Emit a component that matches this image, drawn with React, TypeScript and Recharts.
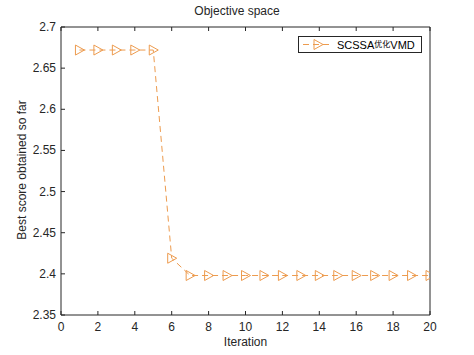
import React from "react"
import { LineChart, Line, XAxis, YAxis } from "recharts"

const iterations = [1, 2, 3, 4, 5, 6, 7, 8, 9, 10, 11, 12, 13, 14, 15, 16, 17, 18, 19, 20]
const bestScore = [
  2.672, 2.672, 2.672, 2.672, 2.672, 2.419, 2.398, 2.398, 2.398, 2.398,
  2.398, 2.398, 2.398, 2.398, 2.398, 2.398, 2.398, 2.398, 2.398, 2.398,
]
const xTicks = [0, 2, 4, 6, 8, 10, 12, 14, 16, 18, 20]
const yTicks = [2.35, 2.4, 2.45, 2.5, 2.55, 2.6, 2.65, 2.7]
const seriesName = "SCSSA优化VMD"

const data = iterations.map((it, i) => ({ iter: it, score: bestScore[i] }))

const W = 474
const H = 355
const PLOT = { left: 61, right: 430, top: 27, bottom: 315 }
const COLOR = "#ED9B4E"
const AXIS = "#262626"
const FONT = "'Liberation Sans', Arial, sans-serif"
const TICK_LEN = 4

const Triangle = (props: any) => {
  const { cx, cy } = props
  if (cx == null || cy == null) return null
  return (
    <path
      d={`M${cx - 4},${cy - 5} L${cx + 5},${cy} L${cx - 4},${cy + 5} Z`}
      fill="none"
      stroke={COLOR}
      strokeWidth={1}
    />
  )
}

const BottomTick = (props: any) => {
  const { x, payload } = props
  return (
    <g>
      <line x1={x} y1={PLOT.bottom} x2={x} y2={PLOT.bottom - TICK_LEN} stroke={AXIS} />
      <text x={x} y={PLOT.bottom + 16} textAnchor="middle" fontSize={12} fill={AXIS} fontFamily={FONT}>
        {payload.value}
      </text>
    </g>
  )
}

const TopTick = (props: any) => {
  const { x } = props
  return <line x1={x} y1={PLOT.top} x2={x} y2={PLOT.top + TICK_LEN} stroke={AXIS} />
}

const LeftTick = (props: any) => {
  const { y, payload } = props
  return (
    <g>
      <line x1={PLOT.left} y1={y} x2={PLOT.left + TICK_LEN} y2={y} stroke={AXIS} />
      <text x={PLOT.left - 5} y={y + 4} textAnchor="end" fontSize={12} fill={AXIS} fontFamily={FONT}>
        {payload.value}
      </text>
    </g>
  )
}

const RightTick = (props: any) => {
  const { y } = props
  return <line x1={PLOT.right} y1={y} x2={PLOT.right - TICK_LEN} y2={y} stroke={AXIS} />
}

export default function App() {
  return (
    <div style={{ position: "absolute", left: 0, top: 0, width: W, height: H, background: "#fff", fontFamily: FONT }}>
      <LineChart
        width={W}
        height={H}
        data={data}
        margin={{ top: PLOT.top - 5, right: W - PLOT.right - 5, left: PLOT.left - 40, bottom: H - PLOT.bottom - 25 }}
      >
        <XAxis
          xAxisId="bottom"
          dataKey="iter"
          type="number"
          domain={[0, 20]}
          ticks={xTicks}
          interval={0}
          height={25}
          tickLine={false}
          tick={<BottomTick />}
          stroke={AXIS}
          allowDataOverflow
        />
        <XAxis
          xAxisId="top"
          dataKey="iter"
          orientation="top"
          type="number"
          domain={[0, 20]}
          ticks={xTicks}
          interval={0}
          height={5}
          tickLine={false}
          tick={<TopTick />}
          stroke={AXIS}
        />
        <YAxis
          yAxisId="left"
          type="number"
          domain={[2.35, 2.7]}
          ticks={yTicks}
          interval={0}
          width={40}
          tickLine={false}
          tick={<LeftTick />}
          stroke={AXIS}
          allowDataOverflow
        />
        <YAxis
          yAxisId="right"
          orientation="right"
          type="number"
          domain={[2.35, 2.7]}
          ticks={yTicks}
          interval={0}
          width={5}
          tickLine={false}
          tick={<RightTick />}
          stroke={AXIS}
        />
        <Line
          xAxisId="bottom"
          yAxisId="left"
          type="linear"
          dataKey="score"
          name={seriesName}
          stroke={COLOR}
          strokeWidth={1}
          strokeDasharray="6 4"
          dot={<Triangle />}
          activeDot={false}
          isAnimationActive={false}
        />
      </LineChart>
      <div
        style={{
          position: "absolute",
          left: 0,
          width: W,
          top: 4,
          textAlign: "center",
          fontSize: 12,
          color: AXIS,
        }}
      >
        Objective space
      </div>
      <div
        style={{
          position: "absolute",
          left: (PLOT.left + PLOT.right) / 2 - 60,
          width: 120,
          top: 335,
          textAlign: "center",
          fontSize: 12,
          color: AXIS,
        }}
      >
        Iteration
      </div>
      <div
        style={{
          position: "absolute",
          left: 22 - 100,
          top: 171 - 8,
          width: 200,
          textAlign: "center",
          fontSize: 12,
          color: AXIS,
          transform: "rotate(-90deg)",
          whiteSpace: "nowrap",
        }}
      >
        Best score obtained so far
      </div>
      <div
        style={{
          position: "absolute",
          left: 298,
          top: 36,
          width: 124,
          height: 17,
          border: "1px solid #262626",
          background: "#fff",
          boxSizing: "border-box",
          display: "flex",
          alignItems: "center",
          fontSize: 11,
          color: "#000",
          whiteSpace: "nowrap",
        }}
      >
        <svg width={34} height={15} style={{ marginLeft: 2, flexShrink: 0 }}>
          <line x1={2} y1={7.5} x2={32} y2={7.5} stroke={COLOR} strokeDasharray="6 4" />
          <path d="M13,2.5 L22,7.5 L13,12.5 Z" fill="none" stroke={COLOR} />
        </svg>
        <span style={{ marginLeft: 2 }}>
          SCSSA<span style={{ fontSize: 8, position: "relative", top: -2, fontFamily: "'Noto Sans CJK SC'" }}>优化</span>VMD
        </span>
      </div>
    </div>
  )
}
